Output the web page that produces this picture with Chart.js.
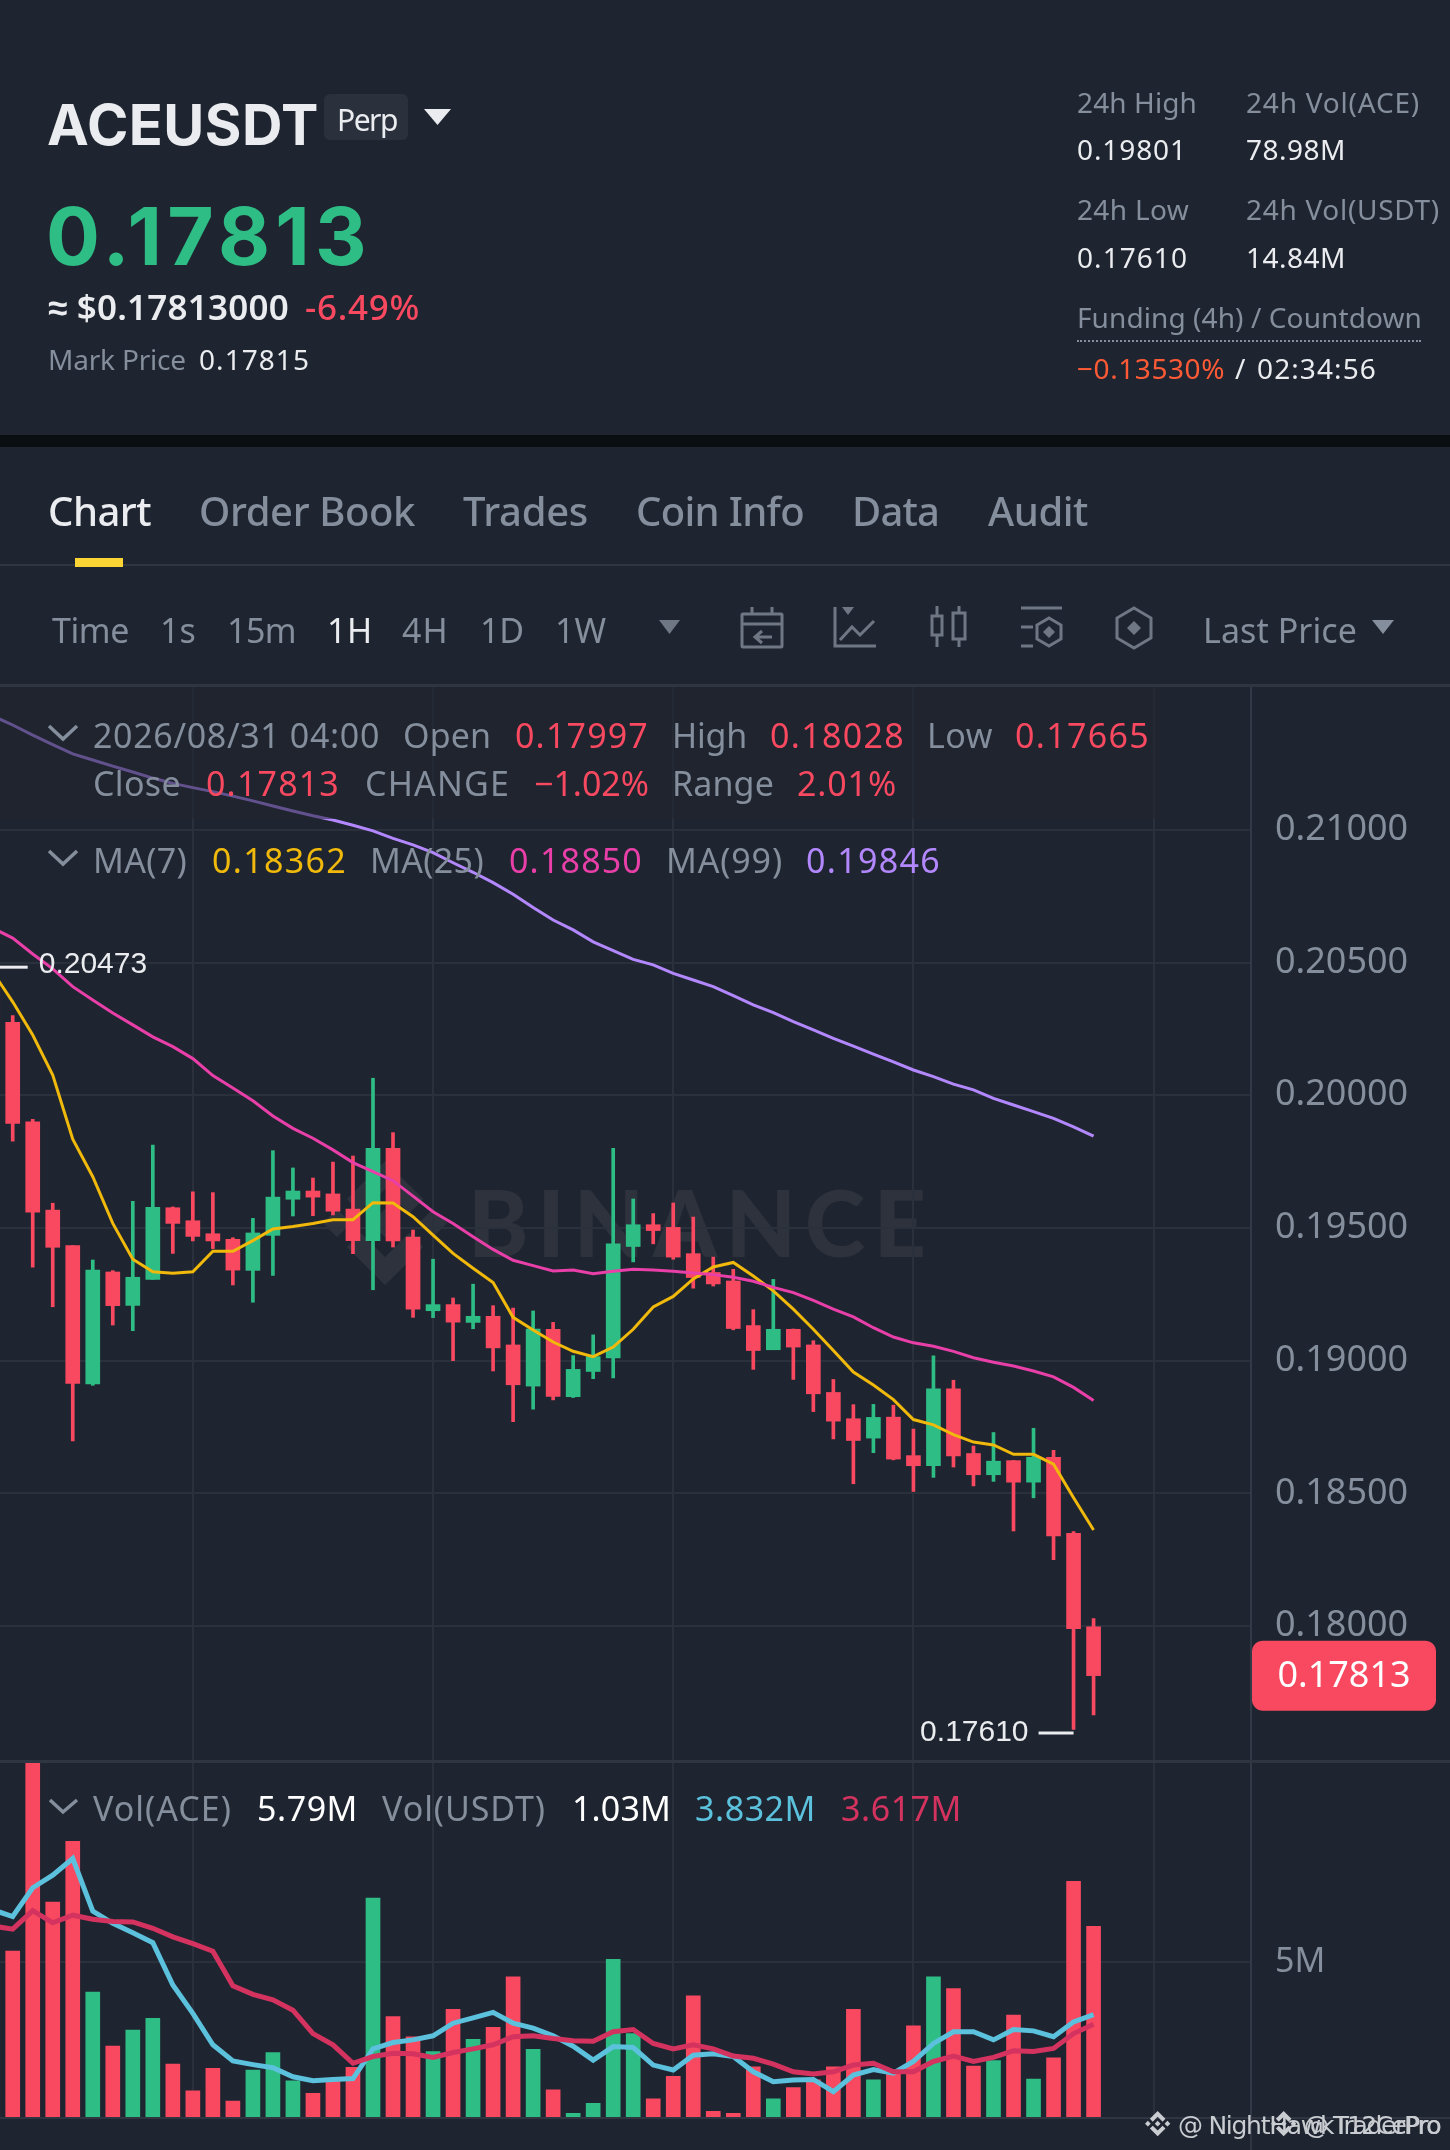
<!DOCTYPE html>
<html>
<head>
<meta charset="utf-8">
<title>ACEUSDT</title>
<script src="https://cdn.jsdelivr.net/npm/chart.js@4/dist/chart.umd.min.js"></script>
<style>
  html, body { margin: 0; padding: 0; background: #1f2530; }
  #page { position: relative; width: 1450px; height: 2150px; overflow: hidden; background: #1f2530; font-family: "Noto Sans", sans-serif; }
  .band { position: absolute; left: 0; width: 1450px; }
  .t { position: absolute; white-space: nowrap; line-height: 1; transform: translateY(-50%); z-index: 4; }
  canvas { position: absolute; left: 0; z-index: 1; }
  svg.layer { position: absolute; left: 0; top: 0; }
</style>
</head>
<body>
<div id="page">
  <div class="band" style="top:435px;height:12px;background:#0b0e11"></div>
  <div class="band" style="top:564px;height:2px;background:#2f3541"></div>
  <div class="band" style="top:684px;height:3px;background:#2f3541;z-index:2"></div>
  <div class="band" style="top:1760px;height:3px;background:#2f3541;z-index:2"></div>
  <div class="band" style="top:2117px;height:2px;background:#2f3541;z-index:2"></div>
  <div style="position:absolute;left:75px;top:558px;width:48px;height:9px;background:#fcd535"></div>
  <div style="position:absolute;left:324px;top:94px;width:84px;height:46px;border-radius:6px;background:#2a303c"></div>
  <div style="position:absolute;left:1077px;top:340px;width:344px;border-top:2px dotted #848e9c"></div>
  <div style="position:absolute;left:1250px;top:2117px;width:2px;height:33px;background:#2f3541"></div>
  <div style="position:absolute;left:0;top:687px;width:1160px;height:132px;background:rgba(31,37,48,.55);z-index:2"></div>

  <svg class="layer" width="1450" height="2150" style="z-index:0">
    <defs>
      <path id="bnb" d="M38.73 53.2l24.59-24.58 24.6 24.6 14.3-14.31L63.32 0 24.42 38.9zM0 63.31l14.3-14.31 14.31 14.31-14.31 14.3zM38.73 73.41l24.59 24.59 24.6-24.6 14.31 14.29-38.9 38.91-38.91-38.88-.02-.02zM97.99 63.31l14.3-14.3 14.32 14.3-14.31 14.3zM77.83 63.3L63.32 48.78 52.59 59.51l-1.24 1.23-2.54 2.54 14.51 14.5 14.51-14.47z"/>
    </defs>
    <use href="#bnb" transform="translate(323 1161) scale(.98)" fill="#2e323d"/>
    <text id="wm" x="468" y="1257" font-family="Lato" font-weight="900" font-size="91" fill="#2e323d" textLength="458" lengthAdjust="spacing">BINANCE</text>
  </svg>

  <svg class="layer" width="1450" height="2150" style="z-index:3" fill="none">
    <polygon points="424,109 451,109 437.5,125" fill="#eaecef"/>
    <polygon points="659,620 680,620 669.5,634" fill="#6f7785"/>
    <polygon points="1372,620 1394,620 1383,634" fill="#848e9c"/>
    <g stroke="#6f7785" stroke-width="3">
      <rect x="742" y="614" width="40" height="33" rx="1"/>
      <path d="M742 624H782M752 607V614M772 607V614M772 637H756M762 631L755 637L762 643"/>
      <path d="M835 607V646H876M840 640L852 627L860 635L874 621"/>
      <path fill="#6f7785" stroke="none" d="M842 607H854L848 615z"/>
      <path d="M937 606V647M959 606V647"/>
      <rect x="932" y="616" width="10" height="19" fill="#1f2530"/>
      <rect x="953" y="613" width="12" height="26" fill="#1f2530"/>
      <path d="M1021 608H1062M1021 627H1033M1021 646H1033"/>
      <path d="M1049 618L1061 625V639L1049 646L1037 639V625z"/>
      <path fill="#6f7785" stroke="none" d="M1049 626L1055 632L1049 638L1043 632z"/>
      <path d="M1134 608L1151 618V638L1134 648L1117 638V618z"/>
      <path fill="#6f7785" stroke="none" d="M1134 621L1141 628L1134 635L1127 628z"/>
    </g>
    <g stroke="#848e9c" stroke-width="3.5">
      <path d="M49 726L63 739L77 726"/>
      <path d="M49 851L63 864L77 851"/>
      <path d="M50 1800L63 1812L77 1800"/>
    </g>
    <use href="#bnb" transform="translate(1145 2111) scale(.2)" fill="#c9ccd1"/>
    <use href="#bnb" transform="translate(1271 2111) scale(.2)" fill="#c9ccd1"/>
  </svg>

  <canvas id="priceChart" width="1450" height="1076" style="top:686px"></canvas>
  <canvas id="volumeChart" width="1450" height="388" style="top:1762px"></canvas>
</div>

<script>
// candle values, oldest first. the first candle is cut by the left edge
const opens = [
  0.20396, 0.20275, 0.19900, 0.19567, 0.19433, 0.18912, 0.19334, 0.19208, 0.19306, 0.19576,
  0.19527, 0.19478, 0.19457, 0.19340, 0.19472, 0.19608, 0.19639, 0.19628, 0.19571, 0.19452,
  0.19800, 0.19465, 0.19188, 0.19211, 0.19144, 0.19167, 0.19059, 0.18904, 0.19118, 0.18864,
  0.18959, 0.19010, 0.19430, 0.19512, 0.19502, 0.19403, 0.19332, 0.19300, 0.19132, 0.19041,
  0.19118, 0.19059, 0.18880, 0.18781, 0.18708, 0.18787, 0.18642, 0.18604, 0.18894, 0.18650,
  0.18570, 0.18623, 0.18542, 0.18636, 0.18349, 0.17997
];
const closes = [
  0.20272, 0.19894, 0.19559, 0.19427, 0.18914, 0.19341, 0.19207, 0.19314, 0.19578, 0.19517,
  0.19468, 0.19451, 0.19341, 0.19481, 0.19616, 0.19639, 0.19616, 0.19563, 0.19452, 0.19800,
  0.19451, 0.19194, 0.19211, 0.19145, 0.19167, 0.19048, 0.18909, 0.19119, 0.18865, 0.18967,
  0.19015, 0.19440, 0.19512, 0.19490, 0.19390, 0.19313, 0.19289, 0.19121, 0.19038, 0.19118,
  0.19051, 0.18875, 0.18772, 0.18699, 0.18786, 0.18629, 0.18604, 0.18894, 0.18641, 0.18570,
  0.18621, 0.18542, 0.18636, 0.18339, 0.17990, 0.17813
];
const highs = [
  0.20473, 0.20300, 0.19909, 0.19593, 0.19433, 0.19379, 0.19339, 0.19600, 0.19812, 0.19579,
  0.19636, 0.19633, 0.19463, 0.19536, 0.19791, 0.19726, 0.19688, 0.19748, 0.19771, 0.20064,
  0.19859, 0.19492, 0.19382, 0.19236, 0.19288, 0.19207, 0.19198, 0.19187, 0.19144, 0.19019,
  0.19097, 0.19800, 0.19609, 0.19554, 0.19594, 0.19541, 0.19390, 0.19344, 0.19192, 0.19306,
  0.19119, 0.19075, 0.18929, 0.18834, 0.18835, 0.18832, 0.18742, 0.19018, 0.18926, 0.18678,
  0.18729, 0.18624, 0.18745, 0.18662, 0.18356, 0.18028
];
const lows = [
  0.20272, 0.19827, 0.19352, 0.19203, 0.18697, 0.18907, 0.19134, 0.19113, 0.19306, 0.19404,
  0.19451, 0.19422, 0.19285, 0.19220, 0.19321, 0.19545, 0.19546, 0.19549, 0.19403, 0.19267,
  0.19428, 0.19163, 0.19162, 0.19000, 0.19120, 0.18961, 0.18770, 0.18817, 0.18852, 0.18861,
  0.18932, 0.18935, 0.19372, 0.19440, 0.19382, 0.19273, 0.19281, 0.19116, 0.18967, 0.19041,
  0.18929, 0.18808, 0.18705, 0.18536, 0.18653, 0.18626, 0.18507, 0.18560, 0.18599, 0.18528,
  0.18545, 0.18358, 0.18483, 0.18250, 0.17610, 0.17665
];

// moving averages on the price panel
const ma7 = [
  0.20464, 0.20352, 0.20227, 0.20076, 0.19834, 0.19693, 0.19517, 0.19382, 0.19335, 0.19329,
  0.19335, 0.19412, 0.19412, 0.19452, 0.19496, 0.19505, 0.19517, 0.19531, 0.19531, 0.19595,
  0.19594, 0.19542, 0.19473, 0.19404, 0.19348, 0.19294, 0.19163, 0.19115, 0.19070, 0.19035,
  0.19015, 0.19051, 0.19118, 0.19202, 0.19242, 0.19308, 0.19353, 0.19370, 0.19319, 0.19263,
  0.19194, 0.19118, 0.19038, 0.18957, 0.18908, 0.18853, 0.18778, 0.18758, 0.18721, 0.18693,
  0.18682, 0.18647, 0.18647, 0.18610, 0.18483, 0.18362
];
const ma25 = [
  0.20630, 0.20592, 0.20532, 0.20476, 0.20409, 0.20359, 0.20310, 0.20265, 0.20220, 0.20183,
  0.20138, 0.20074, 0.20027, 0.19979, 0.19922, 0.19875, 0.19838, 0.19794, 0.19746, 0.19712,
  0.19678, 0.19620, 0.19561, 0.19517, 0.19467, 0.19419, 0.19378, 0.19358, 0.19338, 0.19341,
  0.19327, 0.19337, 0.19344, 0.19341, 0.19337, 0.19330, 0.19324, 0.19314, 0.19299, 0.19276,
  0.19256, 0.19227, 0.19194, 0.19165, 0.19124, 0.19089, 0.19067, 0.19054, 0.19035, 0.19011,
  0.18994, 0.18980, 0.18961, 0.18939, 0.18899, 0.18850
];
const ma99 = [
  0.21429, 0.21395, 0.21357, 0.21321, 0.21286, 0.21263, 0.21240, 0.21218, 0.21195, 0.21175,
  0.21159, 0.21144, 0.21127, 0.21109, 0.21090, 0.21071, 0.21053, 0.21037, 0.21017, 0.20996,
  0.20968, 0.20943, 0.20914, 0.20876, 0.20840, 0.20801, 0.20757, 0.20707, 0.20660, 0.20623,
  0.20578, 0.20545, 0.20512, 0.20491, 0.20459, 0.20434, 0.20409, 0.20375, 0.20340, 0.20311,
  0.20277, 0.20246, 0.20214, 0.20185, 0.20155, 0.20126, 0.20095, 0.20070, 0.20042, 0.20020,
  0.19988, 0.19963, 0.19938, 0.19913, 0.19881, 0.19846
];

// volume panel, in millions
const volumes = [
  4.82, 5.24, 9.60, 6.33, 7.68, 4.33, 3.13, 3.49, 3.75, 2.73,
  2.14, 2.64, 1.91, 2.60, 2.99, 2.36, 2.08, 2.38, 2.66, 6.42,
  3.79, 3.34, 3.01, 3.95, 3.28, 3.55, 4.67, 3.06, 2.16, 1.64,
  1.86, 5.06, 3.41, 1.96, 2.46, 4.25, 1.68, 1.64, 2.67, 1.96,
  2.21, 2.38, 2.67, 3.95, 2.38, 2.56, 3.58, 4.67, 4.41, 2.69,
  2.81, 3.82, 2.40, 2.87, 6.79, 5.79
];
const volMaBlue = [
  6.16, 6.01, 6.65, 6.93, 7.30, 6.13, 5.86, 5.65, 5.43, 4.49,
  3.86, 3.16, 2.80, 2.72, 2.65, 2.45, 2.36, 2.39, 2.41, 3.07,
  3.21, 3.27, 3.36, 3.64, 3.76, 3.88, 3.64, 3.53, 3.36, 3.13,
  2.82, 3.12, 3.10, 2.71, 2.60, 2.93, 2.96, 2.90, 2.56, 2.34,
  2.38, 2.39, 2.12, 2.49, 2.61, 2.53, 2.79, 3.19, 3.45, 3.45,
  3.27, 3.50, 3.47, 3.34, 3.67, 3.832
];
const volMaRed = [
  5.80, 5.73, 6.14, 5.87, 6.04, 5.95, 5.90, 5.89, 5.75, 5.56,
  5.41, 5.24, 4.47, 4.28, 4.16, 3.93, 3.41, 3.16, 2.75, 2.90,
  2.97, 2.96, 2.88, 2.99, 3.07, 3.16, 3.34, 3.36, 3.30, 3.25,
  3.24, 3.45, 3.50, 3.19, 3.07, 3.16, 3.07, 2.91, 2.86, 2.73,
  2.56, 2.51, 2.56, 2.71, 2.75, 2.56, 2.56, 2.79, 2.91, 2.79,
  2.88, 3.03, 3.01, 3.08, 3.41, 3.617
];

const priceTicks = [0.18, 0.185, 0.19, 0.195, 0.20, 0.205, 0.21];
const volumeTicks = [5];
const timeGridAt = [10, 22, 34, 46, 58]; // candle index of each vertical grid line
const lastPrice = 0.17813;
const highMark = { index: 0, value: 0.20473 };
const lowMark = { index: 54, value: 0.17610 };

const RED = "#f84960";
const GREEN = "#2ebd85";
const GRID = "#2b313c";
const AXIS = "#333a47";
const GREY = "#848e9c";
const WHITE = "#eaecef";

const candleColors = opens.map((o, i) => (closes[i] < o ? RED : GREEN));
const points = (values) => values.map((v, i) => ({ x: i, y: v }));

function lineSet(values, color, width) {
  return {
    type: "line",
    data: points(values),
    borderColor: color,
    borderWidth: width,
    pointRadius: 0,
    tension: 0,
    order: 1,
  };
}

function xAxis() {
  return {
    type: "linear",
    min: 0.365,
    max: 62.865,
    offset: false,
    afterBuildTicks: (scale) => {
      scale.ticks = timeGridAt.map((v) => ({ value: v }));
    },
    ticks: { display: false },
    border: { display: false },
    grid: { color: GRID, lineWidth: 2, drawTicks: false, offset: false },
  };
}

function yAxis(min, max, ticks, format, fontSize) {
  return {
    position: "right",
    min: min,
    max: max,
    afterBuildTicks: (scale) => {
      scale.ticks = ticks.map((v) => ({ value: v }));
    },
    afterFit: (scale) => {
      scale.width = 199;
      scale.paddingTop = 0;
      scale.paddingBottom = 0;
    },
    ticks: {
      color: GREY,
      font: { family: "Noto Sans", size: fontSize },
      padding: 24,
      autoSkip: false,
      callback: format,
    },
    border: { display: true, color: AXIS, width: 2 },
    grid: { color: GRID, lineWidth: 2, drawTicks: false },
  };
}

// dashes with the high and low values, and the red tag of the last price
const priceMarks = {
  id: "priceMarks",
  afterDraw(chart) {
    const { ctx, scales } = chart;
    ctx.save();
    ctx.fillStyle = WHITE;
    ctx.font = "30px 'Liberation Sans'";
    ctx.textBaseline = "middle";

    const hx = scales.x.getPixelForValue(highMark.index);
    const hy = scales.y.getPixelForValue(highMark.value) - 3;
    ctx.fillRect(hx, hy - 1, 35, 3);
    ctx.textAlign = "left";
    ctx.fillText(highMark.value.toFixed(5), hx + 46, hy - 2);

    const lx = scales.x.getPixelForValue(lowMark.index);
    const ly = scales.y.getPixelForValue(lowMark.value) + 3;
    ctx.fillRect(lx - 35, ly - 1, 35, 3);
    ctx.textAlign = "right";
    ctx.fillText(lowMark.value.toFixed(5), lx - 45, ly);

    const ty = scales.y.getPixelForValue(lastPrice);
    ctx.fillStyle = RED;
    ctx.beginPath();
    ctx.roundRect(1252, ty - 35, 184, 70, 11);
    ctx.fill();
    ctx.fillStyle = "#ffffff";
    ctx.textAlign = "center";
    ctx.font = "36px 'Noto Sans'";
    ctx.fillText(lastPrice.toFixed(5), 1344, ty + 1);
    ctx.restore();
  },
};

new Chart(document.getElementById("priceChart"), {
  type: "bar",
  data: {
    datasets: [
      lineSet(ma99, "#b388ff", 3),
      lineSet(ma25, "#e83fa8", 3),
      lineSet(ma7, "#f0b90b", 3),
      {
        data: opens.map((o, i) => ({ x: i, y: [o, closes[i]] })),
        backgroundColor: candleColors,
        barThickness: 14,
        grouped: false,
        order: 2,
      },
      {
        data: lows.map((l, i) => ({ x: i, y: [l, highs[i]] })),
        backgroundColor: candleColors,
        barThickness: 3,
        grouped: false,
        order: 3,
      },
    ],
  },
  options: {
    responsive: false,
    animation: false,
    events: [],
    layout: { padding: 0, autoPadding: false },
    plugins: { legend: { display: false }, tooltip: { enabled: false } },
    scales: {
      x: xAxis(),
      y: yAxis(0.174876, 0.215419, priceTicks, (v) => v.toFixed(5), 36),
    },
  },
  plugins: [priceMarks],
});

new Chart(document.getElementById("volumeChart"), {
  type: "bar",
  data: {
    datasets: [
      lineSet(volMaRed, "#d4335f", 5),
      lineSet(volMaBlue, "#5bc1dc", 5),
      {
        data: points(volumes),
        backgroundColor: candleColors,
        barThickness: 14,
        grouped: false,
        order: 2,
      },
    ],
  },
  options: {
    responsive: false,
    animation: false,
    events: [],
    layout: { padding: { bottom: 33 }, autoPadding: false },
    plugins: { legend: { display: false }, tooltip: { enabled: false } },
    scales: {
      x: xAxis(),
      y: yAxis(1.556, 9.444, volumeTicks, (v) => v + "M", 34),
    },
  },
});

// page text around the chart, width is what the letter spacing gets fitted to
const page = document.getElementById("page");
function put(text, x, cy, size, color, width, extra) {
  const el = document.createElement("span");
  el.className = "t";
  el.textContent = text;
  el.style.left = x + "px";
  el.style.top = cy + "px";
  el.style.fontSize = size + "px";
  el.style.color = color;
  if (extra) Object.assign(el.style, extra);
  page.appendChild(el);
  if (width) {
    const gap = (width - el.getBoundingClientRect().width) / text.length;
    el.style.letterSpacing = gap.toFixed(2) + "px";
  }
}

const ORANGE = "#ff5a36";
const YELLOW = "#f0b90b";
const PINK = "#e83fa8";
const PURPLE = "#b388ff";

put("ACEUSDT", 47, 125, 56, WHITE, 272, { fontFamily: "Inter", fontWeight: 700 });
put("Perp", 337, 120, 30, WHITE, 60);
put("0.17813", 46, 236, 80, GREEN, 326, { fontFamily: "Inter", fontWeight: 700 });
put("≈ $0.17813000", 48, 306, 35, WHITE, 241, { fontWeight: 600 });
put("-6.49%", 305, 306, 35, RED, 115, { fontWeight: 500 });
put("Mark Price", 48, 359, 28, GREY, 138);
put("0.17815", 199, 359, 28, WHITE, 111);

put("24h High", 1077, 102, 28, GREY, 120);
put("24h Vol(ACE)", 1246, 102, 28, GREY, 174);
put("0.19801", 1077, 149, 28, WHITE, 110);
put("78.98M", 1246, 149, 28, WHITE, 100);
put("24h Low", 1077, 209, 28, GREY, 112);
put("24h Vol(USDT)", 1246, 209, 28, GREY, 194);
put("0.17610", 1077, 257, 28, WHITE, 111);
put("14.84M", 1246, 257, 28, WHITE, 100);
put("Funding (4h) / Countdown", 1077, 317, 28, GREY, 345);
put("−0.13530%", 1077, 368, 28, ORANGE, 148);
put("/", 1235, 368, 28, WHITE);
put("02:34:56", 1257, 368, 28, WHITE, 120);

put("Chart", 48, 511, 40, WHITE, 103, { fontWeight: 500 });
put("Order Book", 199, 511, 40, GREY, 216, { fontWeight: 500 });
put("Trades", 463, 511, 40, GREY, 125, { fontWeight: 500 });
put("Coin Info", 636, 511, 40, GREY, 168, { fontWeight: 500 });
put("Data", 852, 511, 40, GREY, 87, { fontWeight: 500 });
put("Audit", 988, 511, 40, GREY, 100, { fontWeight: 500 });

put("Time", 52, 630, 34, GREY, 77);
put("1s", 160, 630, 34, GREY, 36);
put("15m", 227, 630, 34, GREY, 69);
put("1H", 327, 630, 34, WHITE, 46);
put("4H", 402, 630, 34, GREY, 47);
put("1D", 480, 630, 34, GREY, 44);
put("1W", 555, 630, 34, GREY, 51);
put("Last Price", 1203, 630, 34, GREY, 154);

put("2026/08/31 04:00", 93, 735, 34, GREY, 287);
put("Open", 403, 735, 34, GREY, 88);
put("0.17997", 515, 735, 34, RED, 134);
put("High", 672, 735, 34, GREY, 75);
put("0.18028", 770, 735, 34, RED, 135);
put("Low", 927, 735, 34, GREY, 66);
put("0.17665", 1015, 735, 34, RED, 135);
put("Close", 93, 783, 34, GREY, 88);
put("0.17813", 206, 783, 34, RED, 134);
put("CHANGE", 365, 783, 34, GREY, 145);
put("−1.02%", 534, 783, 34, RED, 115);
put("Range", 672, 783, 34, GREY, 102);
put("2.01%", 797, 783, 34, RED, 100);

put("MA(7)", 93, 860, 34, GREY, 94);
put("0.18362", 212, 860, 34, YELLOW, 135);
put("MA(25)", 370, 860, 34, GREY, 114);
put("0.18850", 509, 860, 34, PINK, 134);
put("MA(99)", 666, 860, 34, GREY, 117);
put("0.19846", 806, 860, 34, PURPLE, 135);

put("Vol(ACE)", 93, 1808, 34, GREY, 139);
put("5.79M", 257, 1808, 34, "#ffffff", 101);
put("Vol(USDT)", 382, 1808, 34, GREY, 164);
put("1.03M", 572, 1808, 34, "#ffffff", 99);
put("3.832M", 695, 1808, 34, "#5bc1dc", 121);
put("3.617M", 841, 1808, 34, "#d4335f", 121);

put("@ NightHawkTraderPro", 1178, 2125, 25, "#c9ccd1", 262, { fontFamily: "DejaVu Sans" });
put("@ T12CePro", 1304, 2125, 25, "#c9ccd1", 136, { fontFamily: "DejaVu Sans" });
</script>
</body>
</html>
